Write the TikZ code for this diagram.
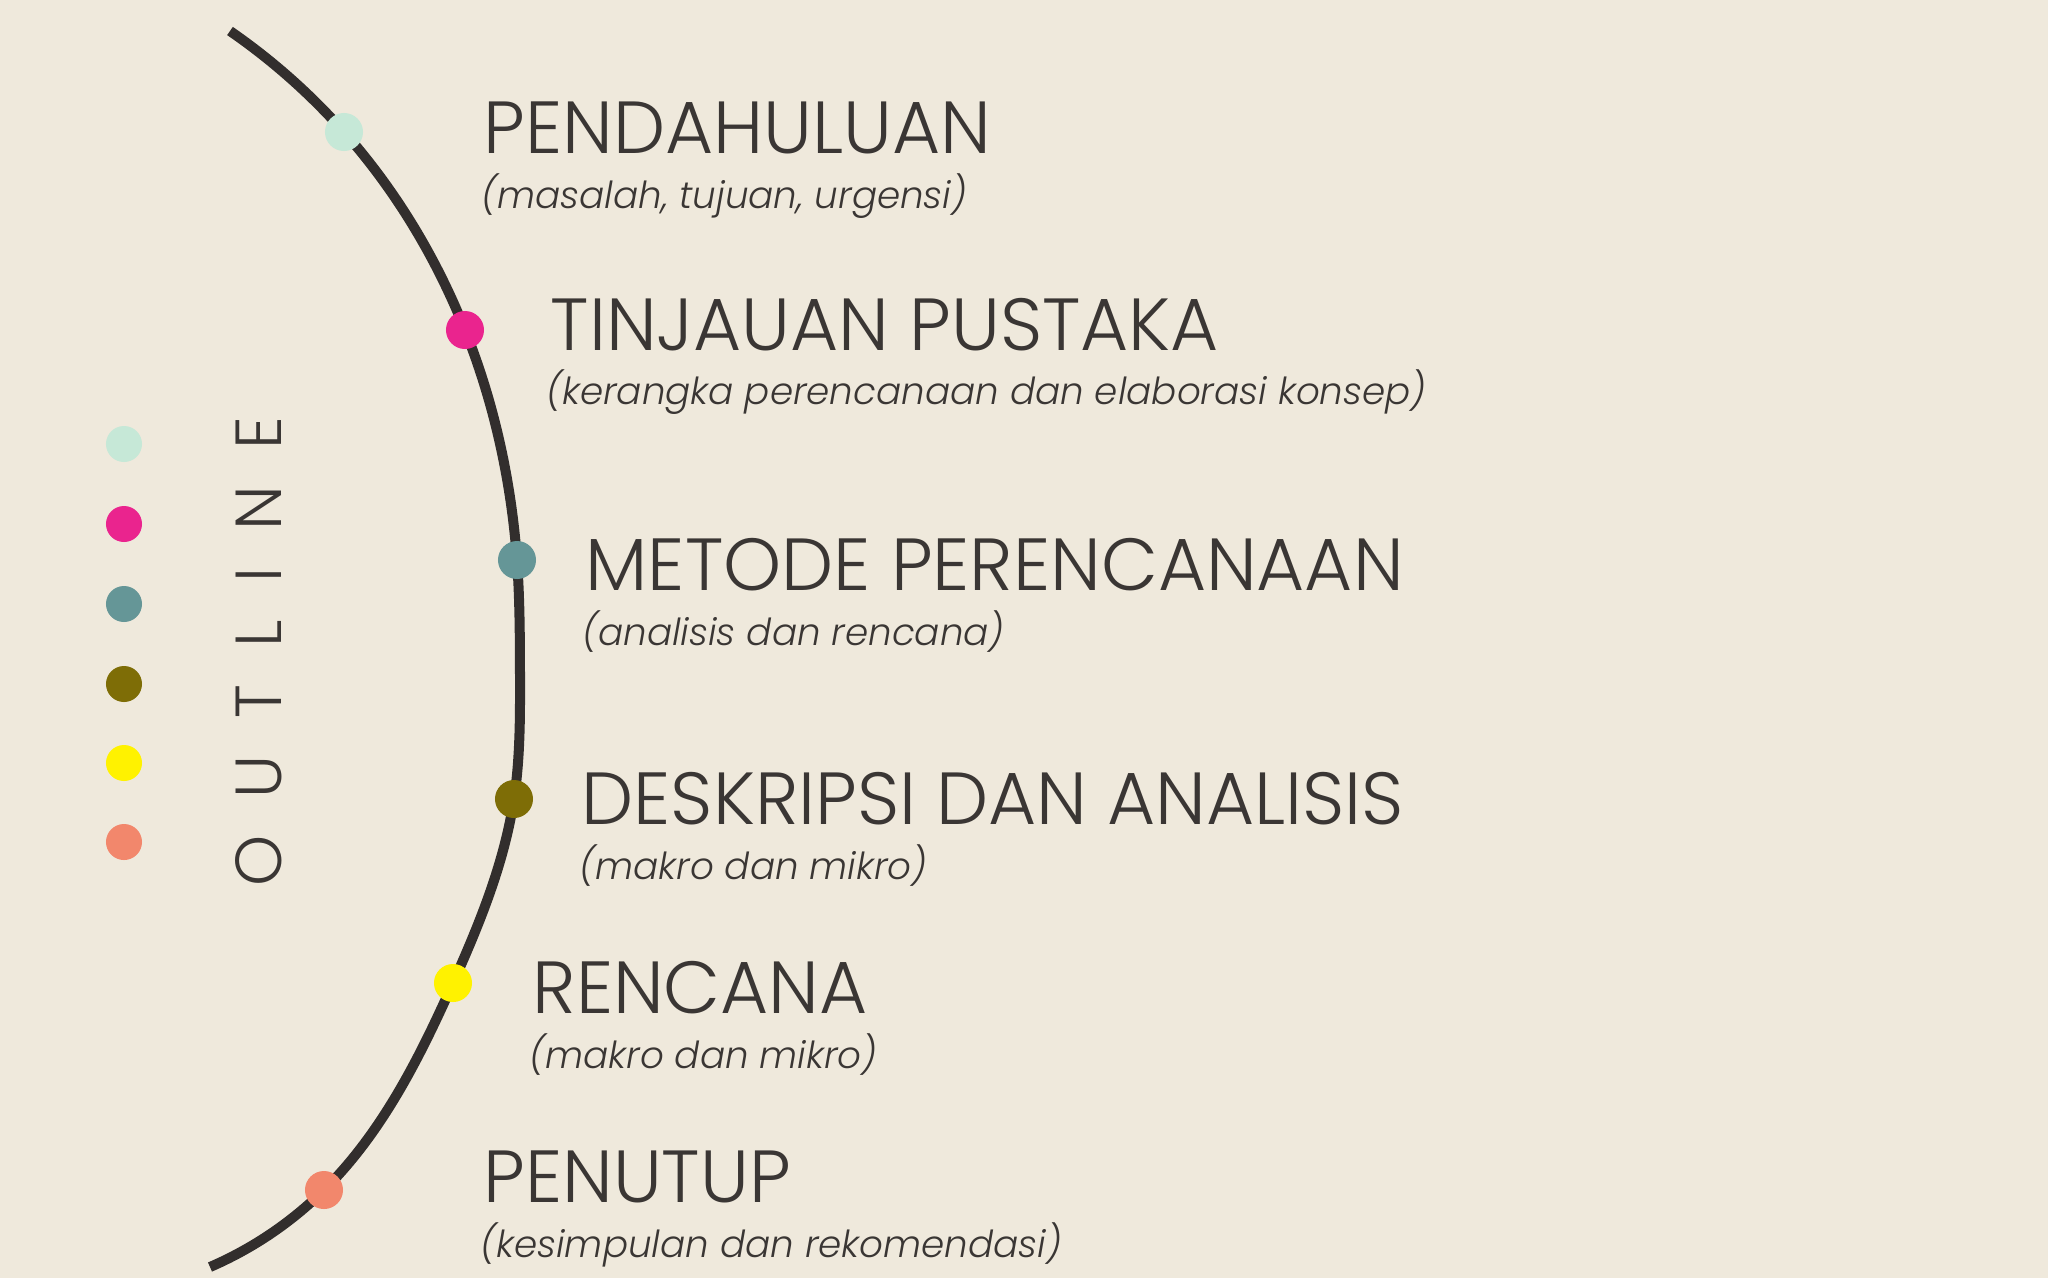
\documentclass[tikz,border=0pt]{standalone}
\usepackage{fontspec}
\usetikzlibrary{hobby}
\newfontfamily\ttlfont{Poppins Light}
\newfontfamily\subfont{Poppins Light Italic}
\definecolor{bg}{RGB}{239,233,220}
\definecolor{linec}{RGB}{50,46,45}
\definecolor{txt}{RGB}{58,54,52}
\definecolor{cA}{RGB}{198,232,215}
\definecolor{cB}{RGB}{234,36,142}
\definecolor{cC}{RGB}{101,150,151}
\definecolor{cD}{RGB}{126,109,6}
\definecolor{cE}{RGB}{255,242,0}
\definecolor{cF}{RGB}{242,135,108}
\tikzset{
  dotm/.style={circle, inner sep=0pt, minimum size=0.38cm},
  legend/.style={circle, inner sep=0pt, minimum size=0.36cm},
  ttl/.style={anchor=base west, inner sep=0pt, text=txt, font=\ttlfont\fontsize{21}{21}\selectfont},
  sub/.style={anchor=base west, inner sep=0pt, text=txt, font=\subfont\fontsize{10.6}{10.6}\selectfont},
  arcline/.style={draw=linec, line width=0.1cm, line cap=butt},
}
\begin{document}
\begin{tikzpicture}[x=0.01cm,y=-0.01cm]
\fill[bg] (0,0) rectangle (2048,1278);
\useasboundingbox (0,0) rectangle (2048,1278);
% curve points
\coordinate (top) at (230,31);
\coordinate (p1) at (344,132);
\coordinate (p2) at (465,330);
\coordinate (p3) at (517,560);
\coordinate (pm) at (520,675);
\coordinate (p4) at (514,799);
\coordinate (p5) at (453,983);
\coordinate (p6) at (324,1190);
\coordinate (bot) at (210,1267);
\draw[arcline, use Hobby shortcut] (top) .. (p1) .. (p2) .. (p3) .. (pm) .. (p4) .. (p5) .. (p6) .. (bot);
\node[dotm, fill=cA] (d1) at (p1) {};
\node[dotm, fill=cB] (d2) at (p2) {};
\node[dotm, fill=cC] (d3) at (p3) {};
\node[dotm, fill=cD] (d4) at (p4) {};
\node[dotm, fill=cE] (d5) at (p5) {};
\node[dotm, fill=cF] (d6) at (p6) {};
% legend dots
\node[legend, fill=cA] (l1) at (124,444) {};
\node[legend, fill=cB] (l2) at (124,524) {};
\node[legend, fill=cC] (l3) at (124,604) {};
\node[legend, fill=cD] (l4) at (124,684) {};
\node[legend, fill=cE] (l5) at (124,763) {};
\node[legend, fill=cF] (l6) at (124,842) {};
% OUTLINE
\node[anchor=base west, inner sep=0pt, rotate=90, text=txt, font=\ttlfont\fontsize{18.5}{18.5}\selectfont] (outline) at (281,887)
  {O\hspace{0.37cm}U\hspace{0.37cm}T\hspace{0.37cm}L\hspace{0.37cm}I\hspace{0.37cm}N\hspace{0.37cm}E};
% titles
\node[ttl] (t1) at (483,153) {PENDAHULUAN};
\node[sub] (s1) at (481,208) {(masalah, tujuan, urgensi)};
\node[ttl] (t2) at (550,350) {TINJAUAN PUSTAKA};
\node[sub] (s2) at (546,404) {(kerangka perencanaan dan elaborasi konsep)};
\node[ttl] (t3) at (585,590) {METODE PERENCANAAN};
\node[sub] (s3) at (582,645) {(analisis dan rencana)};
\node[ttl] (t4) at (581,824) {DESKRIPSI DAN ANALISIS};
\node[sub] (s4) at (579,879) {(makro dan mikro)};
\node[ttl] (t5) at (532,1013) {RENCANA};
\node[sub] (s5) at (529,1068) {(makro dan mikro)};
\node[ttl] (t6) at (483,1202) {PENUTUP};
\node[sub] (s6) at (480,1257) {(kesimpulan dan rekomendasi)};
\end{tikzpicture}
\end{document}
